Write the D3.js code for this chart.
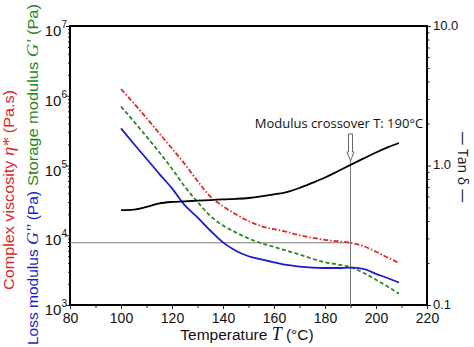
<!DOCTYPE html>
<html>
<head>
<meta charset="utf-8">
<script src="https://cdn.jsdelivr.net/npm/d3@7"></script>
<style>
  body { margin: 0; background: #fff; }
  svg { display: block; }
  .tick text { font-family: "Liberation Sans", Arial, sans-serif; }
</style>
</head>
<body>
<div id="chart"></div>
<script>
// temperature sweep, degC
const temps = [100, 105, 110, 115, 120, 125, 130, 135, 140, 145, 150, 155, 160, 165, 170, 175, 180, 185, 190, 195, 200, 205, 209];
// complex viscosity eta* (Pa.s)
const etaStar = [1.25e6, 7.8e5, 4.8e5, 2.9e5, 1.75e5, 1.05e5, 6.0e4, 3.6e4, 2.6e4, 2.0e4, 1.6e4, 1.35e4, 1.22e4, 1.12e4, 1.0e4, 9.2e3, 8.6e3, 8.2e3, 7.8e3, 7.0e3, 5.8e3, 4.7e3, 4.0e3];
// storage modulus G' (Pa)
const storageG = [7.0e5, 4.3e5, 2.6e5, 1.55e5, 9.0e4, 5.0e4, 3.0e4, 1.9e4, 1.38e4, 1.1e4, 9.0e3, 7.7e3, 6.8e3, 6.0e3, 5.3e3, 4.6e3, 4.1e3, 3.8e3, 3.5e3, 2.9e3, 2.3e3, 1.8e3, 1.45e3];
// loss modulus G'' (Pa)
const lossG = [3.4e5, 2.05e5, 1.25e5, 7.6e4, 4.7e4, 2.7e4, 1.8e4, 1.17e4, 7.9e3, 6.0e3, 5.0e3, 4.5e3, 4.1e3, 3.75e3, 3.55e3, 3.43e3, 3.39e3, 3.39e3, 3.43e3, 3.3e3, 2.8e3, 2.4e3, 2.1e3];
// loss tangent (right axis)
const tanDelta = [0.478, 0.483, 0.505, 0.535, 0.548, 0.553, 0.56, 0.565, 0.572, 0.577, 0.585, 0.6, 0.62, 0.645, 0.69, 0.75, 0.82, 0.91, 1.01, 1.12, 1.24, 1.36, 1.45];

const xTicks = [80, 100, 120, 140, 160, 180, 200, 220];
const leftTicks = [1e3, 1e4, 1e5, 1e6, 1e7];
const rightTicks = [0.1, 1, 10];
const rightTickLabels = ["0.1", "1.0", "10.0"];

const crossoverT = 190;
const crossoverEta = 7.8e3;

const W = 474, H = 347;
const plot = { left: 70, top: 26, right: 427, bottom: 305 };

const svg = d3.select("#chart").append("svg")
    .attr("width", W)
    .attr("height", H);

const x = d3.scaleLinear().domain([80, 220]).range([plot.left, plot.right]);
const y = d3.scaleLog().domain([1e3, 1e7]).range([plot.bottom, plot.top]);
const yR = d3.scaleLog().domain([0.1, 10]).range([plot.bottom, plot.top]);

// minor log ticks 2..9 in each decade
const minorLog = function (lo, hi) {
    let out = [];
    for (let d = lo; d < hi; d *= 10) {
        for (let k = 2; k <= 9; ++k) out.push(d * k);
    }
    return out;
};

// bottom axis
const xAxis = svg.append("g")
    .attr("transform", "translate(0," + plot.bottom + ")")
    .call(d3.axisBottom(x).tickValues(xTicks).tickSize(4).tickFormat(d3.format("d")));
xAxis.selectAll(".tick text").attr("font-size", 14).attr("fill", "#111").attr("y", 8);
svg.append("g")
    .attr("transform", "translate(0," + plot.bottom + ")")
    .call(d3.axisBottom(x).tickValues(d3.range(90, 220, 20)).tickSize(3).tickFormat(""))
    .select(".domain").remove();

// left axis, labels drawn as 10 with superscript exponent
svg.append("g")
    .attr("transform", "translate(" + plot.left + ",0)")
    .call(d3.axisLeft(y).tickValues(leftTicks).tickSize(4).tickFormat(""));
svg.append("g")
    .attr("transform", "translate(" + plot.left + ",0)")
    .call(d3.axisLeft(y).tickValues(minorLog(1e3, 1e7)).tickSize(2).tickFormat(""))
    .select(".domain").remove();
const leftLab = svg.append("g").selectAll("text")
    .data(leftTicks)
    .enter().append("text")
    .attr("x", 67)
    .attr("y", d => y(d) + 10)
    .attr("text-anchor", "end")
    .attr("font-family", "Liberation Sans, Arial, sans-serif")
    .attr("font-size", 15)
    .attr("fill", "#111");
leftLab.append("tspan").text("10");
leftLab.append("tspan")
    .attr("font-size", 10)
    .attr("dy", -8)
    .text(d => Math.round(Math.log10(d)));

// right axis
svg.append("g")
    .attr("transform", "translate(" + plot.right + ",0)")
    .call(d3.axisRight(yR).tickValues(rightTicks).tickSize(4).tickFormat((d, i) => rightTickLabels[i]))
    .selectAll(".tick text")
        .attr("font-family", "Open Sans, sans-serif")
        .attr("font-size", 13)
        .attr("fill", "#111")
        .attr("x", 6)
        .attr("dy", "0.25em");
svg.append("g")
    .attr("transform", "translate(" + plot.right + ",0)")
    .call(d3.axisRight(yR).tickValues(minorLog(0.1, 10)).tickSize(2.5).tickFormat(""))
    .select(".domain").remove();

svg.selectAll(".domain").attr("stroke-width", 1);
svg.selectAll(".tick line").attr("stroke", "#222");

// frame
svg.append("rect")
    .attr("x", plot.left)
    .attr("y", plot.top)
    .attr("width", plot.right - plot.left)
    .attr("height", plot.bottom - plot.top)
    .attr("fill", "none")
    .attr("stroke", "#000")
    .attr("stroke-width", 2);

// crossover guide lines
const tipY = yR(tanDelta[temps.indexOf(crossoverT)]) - 4;
const ax = x(crossoverT);
svg.append("line")
    .attr("x1", plot.left).attr("x2", ax)
    .attr("y1", y(crossoverEta)).attr("y2", y(crossoverEta))
    .attr("stroke", "#777").attr("stroke-width", 1);
svg.append("line")
    .attr("x1", ax).attr("x2", ax)
    .attr("y1", tipY).attr("y2", plot.bottom)
    .attr("stroke", "#777").attr("stroke-width", 1);

// hollow arrow pointing down at the crossover
const arrowPts = [
    [ax - 2, tipY - 27], [ax + 2, tipY - 27], [ax + 2, tipY - 9],
    [ax + 3.5, tipY - 9], [ax, tipY], [ax - 3.5, tipY - 9], [ax - 2, tipY - 9]
];
svg.append("path")
    .attr("d", d3.line()(arrowPts) + "Z")
    .attr("fill", "#fff")
    .attr("stroke", "#666")
    .attr("stroke-width", 1);

svg.append("text")
    .attr("x", 339)
    .attr("y", 128)
    .attr("text-anchor", "middle")
    .attr("font-family", "Open Sans, sans-serif")
    .attr("font-size", 13)
    .attr("fill", "#111")
    .text("Modulus crossover T: 190°C");

// data series
const series = [
    { values: etaStar, color: "#e0262a", dash: "5,2,1.5,2", scale: y },
    { values: storageG, color: "#238a23", dash: "4,2.5", scale: y },
    { values: lossG, color: "#1c1cc8", dash: null, scale: y },
    { values: tanDelta, color: "#000", dash: null, scale: yR }
];

series.forEach(s => {
    const line = d3.line()
        .curve(d3.curveMonotoneX)
        .x((d, i) => x(temps[i]))
        .y(d => s.scale(d));
    svg.append("path")
        .datum(s.values)
        .attr("d", line)
        .attr("fill", "none")
        .attr("stroke", s.color)
        .attr("stroke-width", 1.8)
        .attr("stroke-dasharray", s.dash);
});

// x axis title
const xTitle = svg.append("text")
    .attr("x", 247)
    .attr("y", 340)
    .attr("text-anchor", "middle")
    .attr("font-family", "Liberation Sans, Arial, sans-serif")
    .attr("font-size", 15.5)
    .attr("fill", "#111");
xTitle.append("tspan").text("Temperature  ");
xTitle.append("tspan").attr("font-family", "Liberation Serif, serif").attr("font-style", "italic").attr("font-size", 18).text("T");
xTitle.append("tspan").text("  (°C)");

// left axis titles, rotated
const vTitle = function (cx, cy, len, parts) {
    const t = svg.append("text")
        .attr("transform", "translate(" + cx + "," + cy + ") rotate(-90)")
        .attr("text-anchor", "middle")
        .attr("font-family", "Liberation Sans, Arial, sans-serif")
        .attr("font-size", 14)
        .attr("textLength", len)
        .attr("lengthAdjust", "spacingAndGlyphs");
    parts.forEach(p => {
        const sp = t.append("tspan").attr("fill", p.color).text(p.text);
        if (p.italic) sp.attr("font-family", "Liberation Serif, serif").attr("font-style", "italic").attr("font-size", 16);
    });
};
vTitle(14, 190, 200, [
    { text: "Complex viscosity ", color: "#e0262a" },
    { text: "η*", color: "#e0262a", italic: true },
    { text: " (Pa.s)", color: "#e0262a" }
]);
vTitle(38, 268, 154, [
    { text: "Loss modulus ", color: "#1c1cc8" },
    { text: "G''", color: "#1c1cc8", italic: true },
    { text: " (Pa)", color: "#1c1cc8" }
]);
vTitle(38, 95, 182, [
    { text: "Storage modulus ", color: "#238a23" },
    { text: "G'", color: "#238a23", italic: true },
    { text: " (Pa)", color: "#238a23" }
]);

// right axis title, reading downward
svg.append("text")
    .attr("transform", "translate(458,167) rotate(90)")
    .attr("text-anchor", "middle")
    .attr("font-family", "Open Sans, sans-serif")
    .attr("font-size", 14)
    .attr("fill", "#111")
    .text("— Tan δ —");
</script>
</body>
</html>
